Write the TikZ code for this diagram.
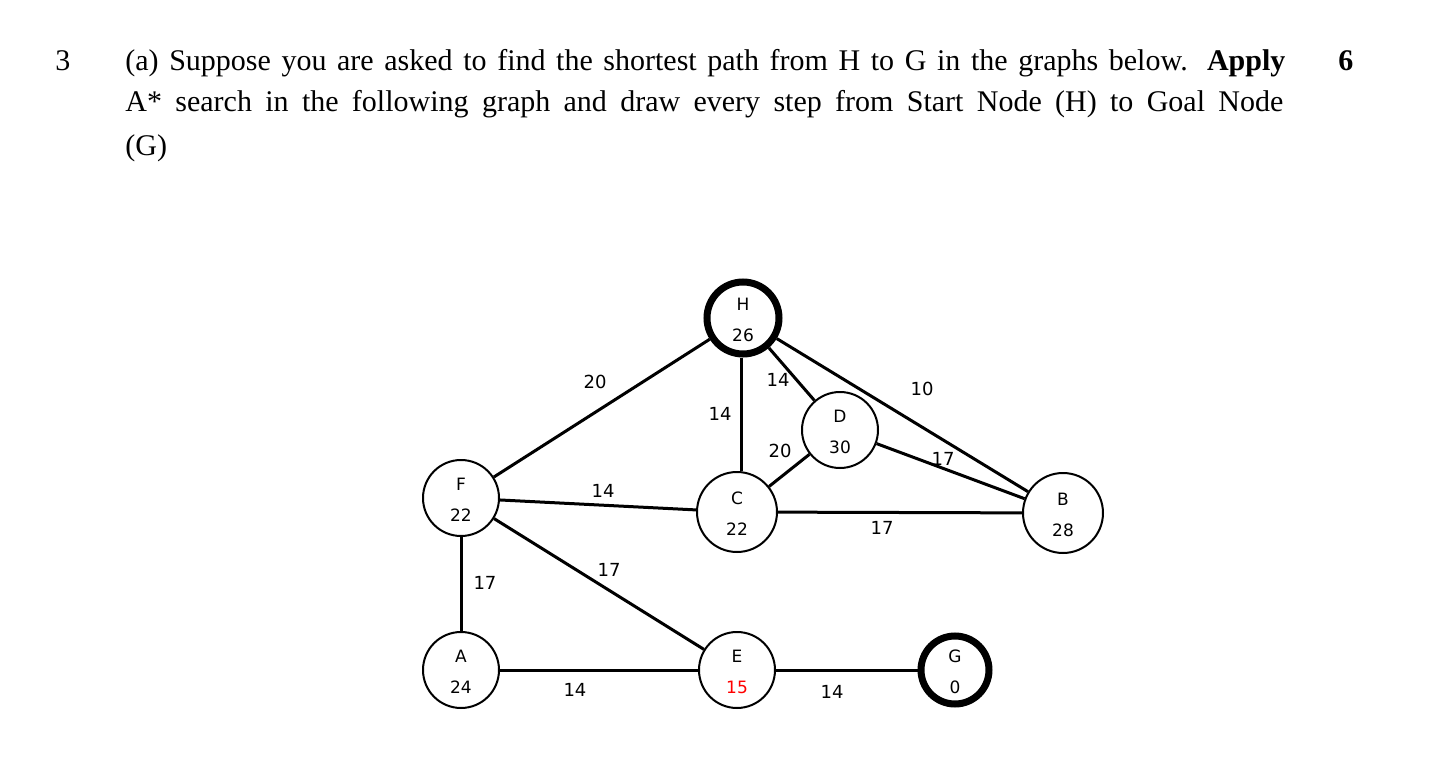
\documentclass[tikz,border=0pt]{standalone}
\usepackage{fontspec}
\setmainfont{Liberation Serif}
\newfontfamily\gf{DejaVu Sans}
\begin{document}
\begin{tikzpicture}[x=0.5pt,y=-0.5pt,
  vtx/.style={circle,draw,line width=1pt,fill=white,inner sep=0pt},
  goalv/.style={circle,draw,line width=3.5pt,fill=white,inner sep=0pt},
  edge/.style={line width=1.5pt},
  wl/.style={font=\gf\fontsize{9pt}{10pt}\selectfont,inner sep=1pt},
  tl/.style={font=\gf\fontsize{8.5pt}{9pt}\selectfont,inner sep=0pt},
  hd/.style={anchor=base west,inner sep=0pt,font=\fontsize{15pt}{18pt}\selectfont}]
\useasboundingbox (0,0) rectangle (1448,776);
\node[hd] (n3) at (55,70) {3};
\node[hd] (l1) at (125,70) {\makebox[580pt][s]{(a) Suppose you are asked to find the shortest path from H to G in the graphs below. \textbf{Apply}}};
\node[hd] (six) at (1338,70) {\textbf{6}};
\node[hd] (l2) at (125,112) {\makebox[579pt][s]{A* search in the following graph and draw every step from Start Node (H) to Goal Node}};
\node[hd] (l3) at (125,155) {(G)};
% vertices
\node[goalv,minimum size=36pt] (H) at (743,318) {};
\node[vtx,minimum size=38pt] (D) at (840,430) {};
\node[vtx,minimum size=38pt] (F) at (461,498) {};
\node[vtx,minimum size=40pt] (C) at (737,512) {};
\node[vtx,minimum size=40pt] (B) at (1063,513) {};
\node[vtx,minimum size=38pt] (A) at (461,670) {};
\node[vtx,minimum size=38pt] (E) at (737,670) {};
\node[goalv,minimum size=34pt] (G) at (955,670) {};
% edges
\draw[edge] (H) -- (F);
\draw[edge] (H.south -| 741,0) -- (C.north -| 741,0);
\draw[edge] (H) -- (D);
\draw[edge] (H) -- (B);
\draw[edge] (D) -- (C);
\draw[edge] (D) -- (B);
\draw[edge] (F) -- (C);
\draw[edge] (C) -- (B);
\draw[edge] (F) -- (E);
\draw[edge] (F) -- (A);
\draw[edge] (A) -- (E);
\draw[edge] (E) -- (G);
% vertex texts
\foreach \n/\l/\v/\x/\y in {H/H/26/743/318,D/D/30/840/430,F/F/22/461/498,C/C/22/737/512,B/B/28/1063/513,A/A/24/461/670,G/G/0/955/670}{
  \node[tl] (\n l) at (\x,\y-14) {\l};
  \node[tl] (\n v) at (\x,\y+17) {\v};
}
\node[tl] (El) at (737,656) {E};
\node[tl,text=red] (Ev) at (737,687) {15};
% weights
\node[wl] (w1) at (595,382) {20};
\node[wl] (w2) at (778,380) {14};
\node[wl] (w3) at (922,389) {10};
\node[wl] (w4) at (720,414) {14};
\node[wl] (w5) at (780,451) {20};
\node[wl] (w6) at (943,459) {17};
\node[wl] (w7) at (603,491) {14};
\node[wl] (w8) at (882,528) {17};
\node[wl] (w9) at (609,570) {17};
\node[wl] (w10) at (485,583) {17};
\node[wl] (w11) at (575,690) {14};
\node[wl] (w12) at (832,692) {14};
\end{tikzpicture}
\end{document}
